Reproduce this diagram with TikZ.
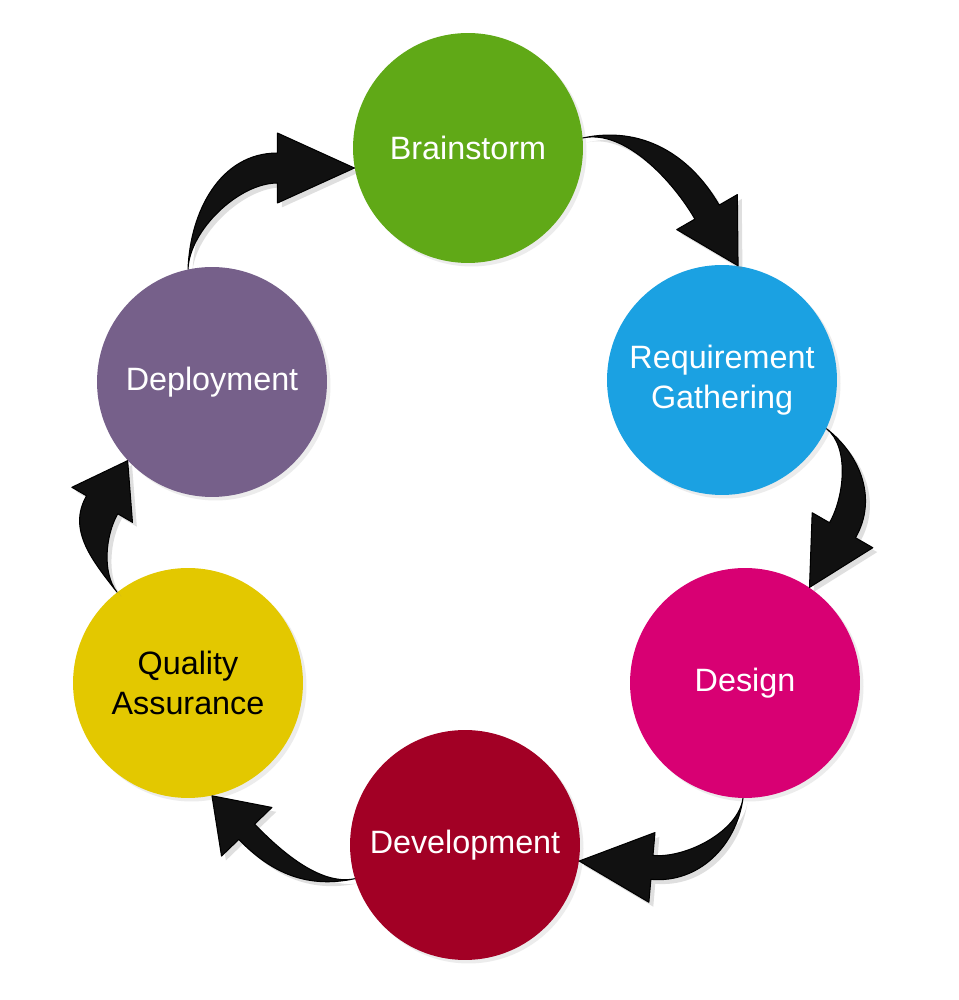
\documentclass[tikz,border=0pt]{standalone}
\usepackage{fontspec}
\setmainfont{Liberation Sans}
\usetikzlibrary{calc, shadows}
\definecolor{mgreen}{HTML}{60A917}
\definecolor{mcyan}{HTML}{1BA1E2}
\definecolor{mmagenta}{HTML}{D80073}
\definecolor{mcrimson}{HTML}{A20025}
\definecolor{myellow}{HTML}{E3C800}
\definecolor{mmauve}{HTML}{76608A}
\definecolor{arrowblk}{HTML}{111111}

% head half width (in px units)
\def\headhw{35}

% tapered curved arrow: tail, tip, angle at tail, direction at tip,
% head length, shaft half width
\newcommand\cyclearrow[6]{%
  \pgfmathsetmacro\backang{#4+180}%
  \pgfmathsetmacro\leftang{#4+90}%
  \pgfmathsetmacro\rightang{#4-90}%
  \filldraw[flow] (#1)
    to[out=#3, in=\backang] ($(#2)+(\backang:#5)+(\leftang:#6)$)
    -- ($(#2)+(\backang:#5)+(\leftang:\headhw)$)
    -- (#2)
    -- ($(#2)+(\backang:#5)+(\rightang:\headhw)$)
    -- ($(#2)+(\backang:#5)+(\rightang:#6)$)
    to[out=\backang, in=#3, looseness=0.8] (#1) -- cycle;
}

\begin{document}
\begin{tikzpicture}[
  x=0.02cm, y=0.02cm,
  stage/.style={circle, fill=#1, minimum size=4.6cm, inner sep=0pt,
    text=white, align=center, font=\fontsize{18.4}{22.7}\selectfont,
    drop shadow={shadow xshift=2pt, shadow yshift=-2pt, opacity=0.15}},
  flow/.style={fill=arrowblk, draw=black, line width=0.6pt, line join=round,
    drop shadow={shadow xshift=2.5pt, shadow yshift=-2.5pt, opacity=0.25}},
]

% Background
\useasboundingbox (0,0) rectangle (958,1000);
\fill[white] (0,0) rectangle (958,1000);

% === Stages ===
\node[stage=mgreen] (brain) at (468,852) {Brainstorm};
\node[stage=mcyan] (req) at (722,620) {Requirement\\Gathering};
\node[stage=mmagenta] (design) at (745,317) {Design};
\node[stage=mcrimson] (dev) at (465,155) {Development};
\node[stage=myellow, text=black] (qa) at (188,317) {Quality\\Assurance};
\node[stage=mmauve] (deploy) at (212,618) {Deployment};

% === Arrows between stages ===
\cyclearrow{brain.5}{req.82}{12}{-60}{62}{14}
\cyclearrow{req.-25}{design.56}{-38}{-120}{66}{15}
\cyclearrow{design.-91}{dev.-8}{-98}{175}{73}{12}
\cyclearrow{dev.197}{qa.-78}{192}{134}{50}{11}
\cyclearrow{qa.128}{deploy.223}{128}{60}{51}{18}
\cyclearrow{deploy.102}{brain.190}{88}{0}{77}{15}

\end{tikzpicture}
\end{document}
